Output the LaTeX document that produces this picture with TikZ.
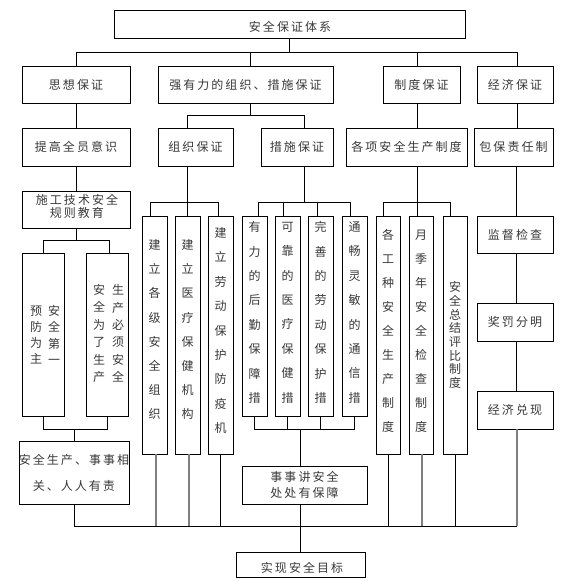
\documentclass[tikz,border=0pt]{standalone}
\usepackage{fontspec}
\newfontfamily\cjk[LetterSpace=16.7]{Noto Sans CJK SC}
\newfontfamily\cjkv{Noto Sans CJK SC}
\tikzset{
  box/.style={draw, line width=0.8pt, inner sep=0pt, align=center, text=black!78,
    font=\cjk\fontsize{12}{14}\selectfont},
  vt/.style={inner sep=0pt, align=center, text=black!78},
  link/.style={line width=0.8pt},
  glink/.style={line width=1.4pt, draw=black!50},
}
\newcommand{\vfont}[1]{\cjkv\fontsize{12}{#1}\selectfont}
\begin{document}
\begin{tikzpicture}[x=1pt,y=-1pt]
\useasboundingbox (0,0) rectangle (574,581);
% top
\node[box, minimum width=351, minimum height=28] (top) at (289.5,24) {};
\node[vt, font=\cjk\fontsize{12}{14}\selectfont] (topt) at (290,26.5) {安全保证体系};
% row 1
\node[box, minimum width=108, minimum height=37] (sx) at (76,84.5) {思想保证};
\node[box, minimum width=175, minimum height=37] (qy) at (245.5,84.5) {强有力的组织、措施保证};
\node[box, minimum width=77, minimum height=37] (zd) at (421.5,84.5) {制度保证};
\node[box, minimum width=76, minimum height=37] (jj) at (515,84.5) {经济保证};
% row 2
\node[box, minimum width=108, minimum height=38] (tg) at (76,147) {提高全员意识};
\node[box, minimum width=75, minimum height=38] (zz) at (195.5,147) {组织保证};
\node[box, minimum width=72, minimum height=38] (cs) at (297,147) {措施保证};
\node[box, minimum width=121, minimum height=38] (gx) at (406.5,147) {各项安全生产制度};
\node[box, minimum width=79, minimum height=38] (bb) at (513.5,147) {包保责任制};
% left column
\node[box, minimum width=108, minimum height=37] (sg) at (76,209.5) {};
\node[vt, font=\cjk\fontsize{12}{13.5}\selectfont] (sgt) at (77,206.5) {施工技术安全\\规则教育};
\node[box, minimum width=42, minimum height=163] (yf) at (43,334.5) {};
\node[vt, font=\vfont{16.3}] (yft1) at (54,335) {安\\全\\第\\一};
\node[vt, font=\vfont{16.3}] (yft2) at (36,335) {预\\防\\为\\主};
\node[box, minimum width=42, minimum height=163] (sc) at (107,334.5) {};
\node[vt, font=\vfont{17.4}] (sct1) at (118,333.5) {生\\产\\必\\须\\安\\全};
\node[vt, font=\vfont{17.4}] (sct2) at (99,333.5) {安\\全\\为\\了\\生\\产};
\node[box, minimum width=108, minimum height=63, font=\cjk\fontsize{12}{26}\selectfont] (aq) at (74,472.5) {安全生产、事事相\\关、人人有责};
% organisation boxes
\foreach \n/\x/\t/\y/\p in {o1/154.5/{建\\立\\各\\级\\安\\全\\组\\织}/329.5/24.1,
                        o2/187.5/{建\\立\\医\\疗\\保\\健\\机\\构}/329.5/24.1,
                        o3/220.5/{建\\立\\劳\\动\\保\\护\\防\\疫\\机}/330.5/24.4}{
  \node[box, minimum width=25, minimum height=238] (\n) at (\x,335) {};
  \node[vt, font=\vfont{\p}] (\n t) at (\x,\y) {\t};
}
% measure boxes
\foreach \n/\x/\t in {m1/254.5/{有\\力\\的\\后\\勤\\保\\障\\措},
                      m2/287.5/{可\\靠\\的\\医\\疗\\保\\健\\措},
                      m3/320.5/{完\\善\\的\\劳\\动\\保\\护\\措},
                      m4/354.5/{通\\畅\\灵\\敏\\的\\通\\信\\措}}{
  \node[box, minimum width=25, minimum height=200] (\n) at (\x,316) {};
  \node[vt, font=\vfont{24.4}] (\n t) at (\x,312.5) {\t};
}
% system boxes
\foreach \n/\x/\t/\y/\p in {s1/388/{各\\工\\种\\安\\全\\生\\产\\制\\度}/331/24,
                        s2/421/{月\\季\\年\\安\\全\\检\\查\\制\\度}/331/24,
                        s3/455/{安\\全\\总\\结\\评\\比\\制\\度}/335/13.7}{
  \node[box, minimum width=24, minimum height=238] (\n) at (\x,335) {};
  \node[vt, font=\vfont{\p}] (\n t) at (\x,\y) {\t};
}
% economic chain
\node[box, minimum width=76, minimum height=37] (jd) at (515,234.5) {监督检查};
\node[box, minimum width=76, minimum height=38] (jf) at (515,322) {奖罚分明};
\node[box, minimum width=76, minimum height=38] (jx) at (515,410) {经济兑现};
% bottom
\node[box, minimum width=125, minimum height=38, font=\cjk\fontsize{12}{16}\selectfont] (ss) at (304.5,485) {事事讲安全\\处处有保障};
\node[box, minimum width=129, minimum height=25] (goal) at (300.5,564.5) {};
\node[vt, font=\cjk\fontsize{12}{14}\selectfont] (goalt) at (302,567.5) {实现安全目标};
% connectors top level
\draw[link] (top.south) -- ++(0,15);
\draw[link] (sx.north) -- ++(0,-13) -| ([xshift=2]jj.north);
\draw[link] ([xshift=4.5]qy.north) -- ++(0,-13);
\draw[link] ([xshift=-4.5]zd.north) -- ++(0,-13);
% row1 -> row2
\draw[link] (sx) -- (tg);
\draw[link] ([xshift=4.5]qy.south) -- ++(0,13);
\draw[link] ([xshift=-8.5]zz.north) -- ++(0,-12) -| ([xshift=7]cs.north);
\draw[link] ([xshift=-4.5]zd.south) -- ([xshift=-4.5]zd.south |- gx.north);
\draw[link] ([xshift=2]jj.south) -- ([xshift=2]jj.south |- bb.north);
% left chain
\draw[link] (tg) -- (sg);
\draw[link] (sg.south) -- ++(0,13);
\draw[link] (yf.north) -- ++(0,-12) -| ([xshift=2]sc.north);
\draw[link] (yf.south) -- ++(0,13) -| (sc.south);
\draw[link] (aq.north) -- ++(0,-12);
% organisation
\draw[link] ([xshift=-8.5]zz.south) -- ([xshift=-8.5]zz.south |- o2.north);
\draw[link] ([xshift=-4.5]o1.north) -- ++(0,-13) -| ([xshift=-2.5]o3.north);
% measures
\draw[link] ([xshift=7]cs.south) -- ++(0,37);
\draw[link] ([xshift=3.5]m1.north) -- ++(0,-13) -| ([xshift=-4.5]m4.north);
\draw[link] ([xshift=-4.5]m2.north) -- ++(0,-13);
\draw[link] ([xshift=-3.5]m3.north) -- ++(0,-13);
\draw[link] (m1.south) -- ++(0,13) -| (m4.south);
\draw[link] (m2.south) -- ++(0,13);
\draw[link] (m3.south) -- ++(0,13);
\draw[link] ([xshift=-4.5]ss.north) -- ++(0,-37);
\draw[link] ([xshift=-4.5]ss.south) -- ([xshift=-4.5]ss.south |- goal.north);
% systems
\draw[link] ([xshift=10.5]gx.south) -- ([xshift=10.5]gx.south |- s2.north);
\draw[link] ([xshift=-5]s1.north) -- ++(0,-13) -| ([xshift=-5]s3.north);
% economic
\draw[link] ([xshift=2.5]bb.south) -- ([xshift=2.5]bb.south |- jd.north);
\draw[link] ([xshift=1]jd.south) -- ([xshift=1]jd.south |- jf.north);
\draw[link] ([xshift=1]jf.south) -- ([xshift=1]jf.south |- jx.north);
% bottom bus
\coordinate (bl) at (0,526);
\draw[link] (aq.south) -- (aq.south |- bl) -- ([xshift=2]jx.south |- bl);
\draw[glink] ([xshift=1.5]o1.south) -- ([xshift=1.5]o1.south |- bl);
\draw[glink] ([xshift=1.5]o2.south) -- ([xshift=1.5]o2.south |- bl);
\draw[link] (o3.south) -- (o3.south |- bl);
\draw[link] (s1.south) -- (s1.south |- bl);
\draw[glink] ([xshift=1]s2.south) -- ([xshift=1]s2.south |- bl);
\draw[link] (s3.south) -- (s3.south |- bl);
\draw[glink] ([xshift=2]jx.south) -- ([xshift=2]jx.south |- bl);
\end{tikzpicture}
\end{document}
